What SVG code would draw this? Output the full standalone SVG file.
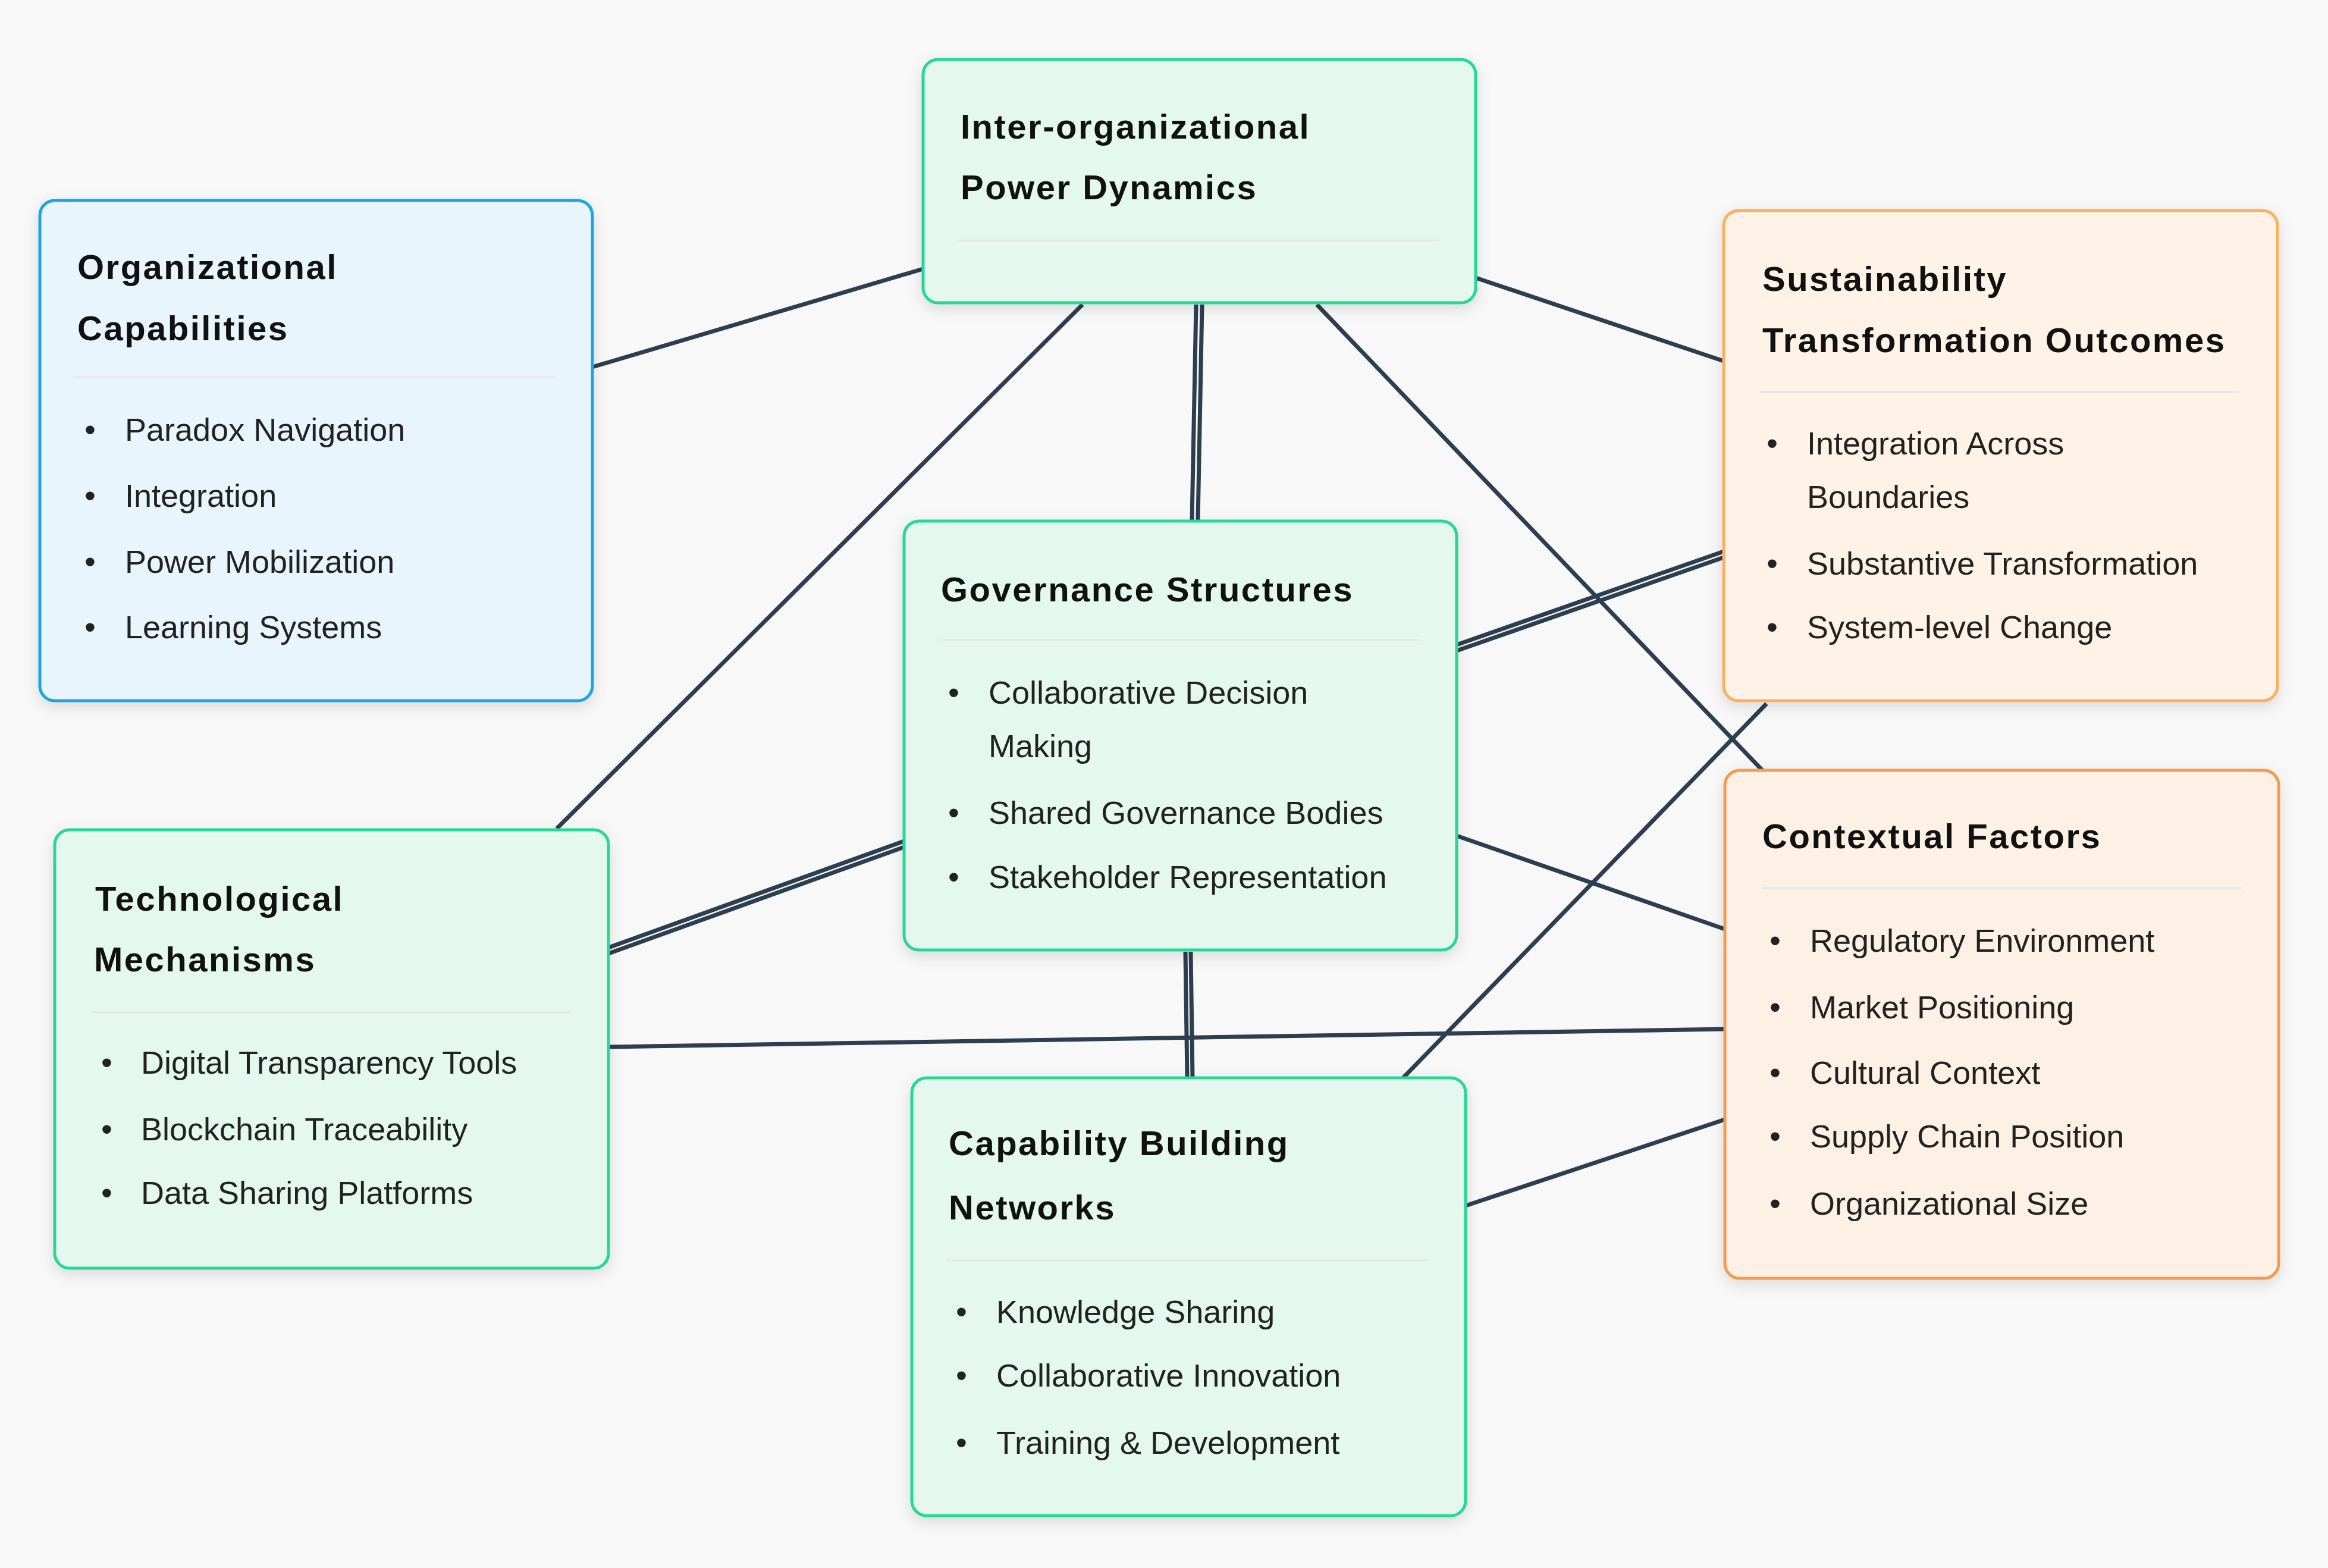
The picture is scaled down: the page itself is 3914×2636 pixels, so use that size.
<svg xmlns="http://www.w3.org/2000/svg" width="3914" height="2636" viewBox="0 0 3914 2636">
<style>
.box{stroke-width:5}
.blue{fill:#e9f5fd;stroke:#1ea5e3}
.green{fill:#e5f8ef;stroke:#26d894}
.orange{fill:#fef3e6;stroke:#fbb060}
.orange2{fill:#fcf1e4;stroke:#f69a4f}
.t{font-family:"Liberation Sans",Arial,sans-serif;font-weight:bold;font-size:58px;fill:#111;letter-spacing:2.5px}
.i{font-family:"Liberation Sans",Arial,sans-serif;font-size:54px;fill:#222}
.sep{stroke:#e6e6e6;stroke-width:3}
.c line{stroke:#2c3e50;stroke-width:7}
</style>
<defs>
<filter id="sh" x="-10%" y="-10%" width="120%" height="120%"><feDropShadow dx="0" dy="8" stdDeviation="12" flood-color="#000" flood-opacity="0.12"/></filter>
</defs>
<rect width="3914" height="2636" fill="#f8f8f8"/>
<g class="c" id="connectors">
<line x1="996" y1="617" x2="1552" y2="452"/>
<line x1="936" y1="1393" x2="1820" y2="512"/>
<line x1="2011" y1="512" x2="2004" y2="874"/>
<line x1="2021" y1="512" x2="2014" y2="874"/>
<line x1="2214" y1="512" x2="2963" y2="1295"/>
<line x1="2481" y1="467" x2="2898" y2="607"/>
<line x1="2449" y1="1084" x2="2898" y2="927"/>
<line x1="2449" y1="1094" x2="2898" y2="937"/>
<line x1="1023" y1="1593" x2="1520" y2="1414"/>
<line x1="1023" y1="1603" x2="1520" y2="1424"/>
<line x1="2449" y1="1405" x2="2900" y2="1562"/>
<line x1="1993" y1="1600" x2="1996" y2="1812"/>
<line x1="2002" y1="1600" x2="2005" y2="1812"/>
<line x1="1023" y1="1760" x2="2900" y2="1730"/>
<line x1="2359" y1="1812" x2="2970" y2="1183"/>
<line x1="2464" y1="2027" x2="2900" y2="1882"/>
</g>
<g id="org">
<rect class="box blue" filter="url(#sh)" x="67" y="337" width="929" height="841" rx="25"/>
<text class="t" x="130" y="469">Organizational</text>
<text class="t" x="130" y="572">Capabilities</text>
<line class="sep" x1="125" y1="634" x2="935" y2="634"/>
<g class="i"><text x="142" y="741">•</text><text x="210" y="741">Paradox Navigation</text>
<text x="142" y="852">•</text><text x="210" y="852">Integration</text>
<text x="142" y="963">•</text><text x="210" y="963">Power Mobilization</text>
<text x="142" y="1073">•</text><text x="210" y="1073">Learning Systems</text></g>
</g>
<g id="inter">
<rect class="box green" filter="url(#sh)" x="1552" y="100" width="929" height="409" rx="25"/>
<text class="t" x="1615" y="233">Inter-organizational</text>
<text class="t" x="1615" y="335">Power Dynamics</text>
<line class="sep" x1="1610" y1="404" x2="2420" y2="404"/>
</g>
<g id="sust">
<rect class="box orange" filter="url(#sh)" x="2898" y="354" width="931" height="824" rx="25"/>
<text class="t" x="2963" y="489">Sustainability</text>
<text class="t" x="2963" y="592">Transformation Outcomes</text>
<line class="sep" x1="2958" y1="659" x2="3765" y2="659"/>
<g class="i"><text x="2970" y="764">•</text><text x="3038" y="764">Integration Across</text>
<text x="3038" y="854">Boundaries</text>
<text x="2970" y="966">•</text><text x="3038" y="966">Substantive Transformation</text>
<text x="2970" y="1073">•</text><text x="3038" y="1073">System-level Change</text></g>
</g>
<g id="gov">
<rect class="box green" filter="url(#sh)" x="1520" y="876" width="929" height="721" rx="25"/>
<text class="t" x="1582" y="1011">Governance Structures</text>
<line class="sep" x1="1578" y1="1076" x2="2388" y2="1076"/>
<g class="i"><text x="1594" y="1183">•</text><text x="1662" y="1183">Collaborative Decision</text>
<text x="1662" y="1273">Making</text>
<text x="1594" y="1385">•</text><text x="1662" y="1385">Shared Governance Bodies</text>
<text x="1594" y="1493">•</text><text x="1662" y="1493">Stakeholder Representation</text></g>
</g>
<g id="tech">
<rect class="box green" filter="url(#sh)" x="92" y="1395" width="931" height="737" rx="25"/>
<text class="t" x="160" y="1531">Technological</text>
<text class="t" x="158" y="1633">Mechanisms</text>
<line class="sep" x1="155" y1="1702" x2="960" y2="1702"/>
<g class="i"><text x="170" y="1805">•</text><text x="237" y="1805">Digital Transparency Tools</text>
<text x="170" y="1917">•</text><text x="237" y="1917">Blockchain Traceability</text>
<text x="170" y="2024">•</text><text x="237" y="2024">Data Sharing Platforms</text></g>
</g>
<g id="ctx">
<rect class="box orange2" filter="url(#sh)" x="2900" y="1295" width="931" height="854" rx="25"/>
<text class="t" x="2963" y="1426">Contextual Factors</text>
<line class="sep" x1="2963" y1="1493" x2="3770" y2="1493"/>
<g class="i"><text x="2975" y="1600">•</text><text x="3043" y="1600">Regulatory Environment</text>
<text x="2975" y="1712">•</text><text x="3043" y="1712">Market Positioning</text>
<text x="2975" y="1822">•</text><text x="3043" y="1822">Cultural Context</text>
<text x="2975" y="1929">•</text><text x="3043" y="1929">Supply Chain Position</text>
<text x="2975" y="2042">•</text><text x="3043" y="2042">Organizational Size</text></g>
</g>
<g id="cap">
<rect class="box green" filter="url(#sh)" x="1533" y="1812" width="931" height="736" rx="25"/>
<text class="t" x="1595" y="1942">Capability Building</text>
<text class="t" x="1595" y="2050">Networks</text>
<line class="sep" x1="1590" y1="2119" x2="2400" y2="2119"/>
<g class="i"><text x="1607" y="2224">•</text><text x="1675" y="2224">Knowledge Sharing</text>
<text x="1607" y="2331">•</text><text x="1675" y="2331">Collaborative Innovation</text>
<text x="1607" y="2444">•</text><text x="1675" y="2444">Training &amp; Development</text></g>
</g>
</svg>
